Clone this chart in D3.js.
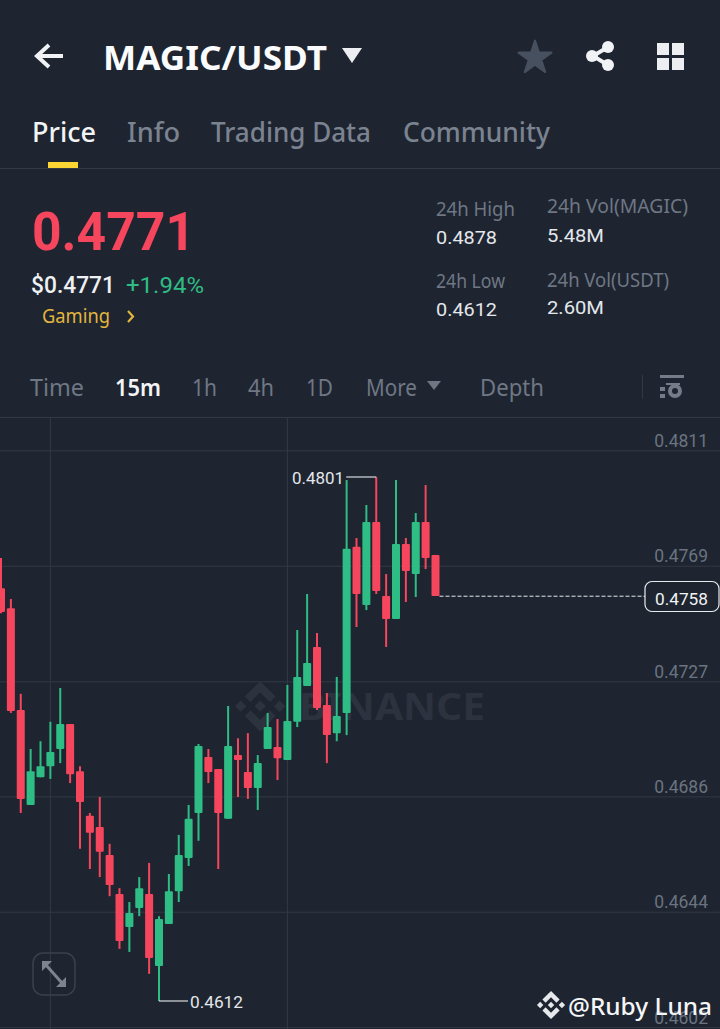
<!DOCTYPE html>
<html>
<head>
<meta charset="utf-8">
<script src="https://cdn.jsdelivr.net/npm/d3@7"></script>
<style>
  html, body { margin: 0; background: #1e2530; }
  svg { display: block; }
  text { font-family: "Noto Sans", sans-serif; }
  .num { font-family: Roboto, sans-serif; }
</style>
</head>
<body>
<svg width="720" height="1029"></svg>
<script>
// candles, oldest first (price values)
const opens = [0.47609, 0.47537, 0.47170, 0.46827, 0.46927, 0.46967, 0.47029, 0.47119, 0.46949, 0.46788,
  0.46748, 0.46647, 0.46506, 0.46387, 0.46455, 0.46506, 0.46246, 0.46398, 0.46516, 0.46636,
  0.46798, 0.47000, 0.46957, 0.46777, 0.47007, 0.46946, 0.46888, 0.47029, 0.47036, 0.46989,
  0.47127, 0.47256, 0.47397, 0.47188, 0.47086, 0.47159, 0.47758, 0.47548, 0.47848, 0.47581,
  0.47498, 0.47768, 0.47660, 0.47848, 0.47729];
const closes = [0.47523, 0.47166, 0.46849, 0.46949, 0.46967, 0.47018, 0.47119, 0.46938, 0.46838, 0.46727,
  0.46658, 0.46538, 0.46336, 0.46437, 0.46527, 0.46275, 0.46416, 0.46516, 0.46647, 0.46777,
  0.47040, 0.46946, 0.46798, 0.47040, 0.46989, 0.46888, 0.46978, 0.47108, 0.46996, 0.47130,
  0.47289, 0.47339, 0.47177, 0.47079, 0.47148, 0.47751, 0.47588, 0.47848, 0.47599, 0.47498,
  0.47768, 0.47671, 0.47848, 0.47718, 0.47581];
const highs = [0.47718, 0.47570, 0.47228, 0.47029, 0.47057, 0.47127, 0.47249, 0.47119, 0.46967, 0.46798,
  0.46856, 0.46687, 0.46527, 0.46477, 0.46567, 0.46618, 0.46426, 0.46578, 0.46719, 0.46827,
  0.47047, 0.47029, 0.46957, 0.47184, 0.47068, 0.47086, 0.47007, 0.47159, 0.47137, 0.47260,
  0.47458, 0.47588, 0.47447, 0.47231, 0.47289, 0.47999, 0.47790, 0.47909, 0.48010, 0.47660,
  0.47999, 0.47790, 0.47880, 0.47981, 0.47729];
const lows = [0.47519, 0.47159, 0.46798, 0.46827, 0.46927, 0.46921, 0.46978, 0.46906, 0.46669, 0.46596,
  0.46567, 0.46498, 0.46308, 0.46297, 0.46426, 0.46218, 0.46120, 0.46398, 0.46477, 0.46607,
  0.46698, 0.46906, 0.46596, 0.46777, 0.46856, 0.46849, 0.46809, 0.47029, 0.46917, 0.46989,
  0.47108, 0.47256, 0.47170, 0.46978, 0.47057, 0.47079, 0.47469, 0.47530, 0.47588, 0.47397,
  0.47498, 0.47559, 0.47577, 0.47678, 0.47581];

const gridPrices = [0.48106, 0.47690, 0.47273, 0.46858, 0.46442, 0.46026];
const tickLabels = ["0.4811", "0.4769", "0.4727", "0.4686", "0.4644", "0.4602"];
const gridCandles = [5, 29];
const lastPrice = 0.4758;

const GREEN = "#2ebd85", RED = "#f6465d", BG = "#1e2530", GRID = "#323945", MUTED = "#7b8391";

const svg = d3.select("svg");
const candles = d3.range(opens.length);

const x = d3.scaleLinear().domain([0, 44]).range([1, 435.5]);
const y = d3.scaleLinear().domain([0.4801, 0.4612]).range([477, 1001]);

// text fitted to the width it has in the screenshot
const label = (tx, ty, str, size, fill, weight, width, cls) => {
  const t = svg.append("text")
    .attr("x", tx).attr("y", ty)
    .attr("font-size", size).attr("font-weight", weight || 400)
    .attr("fill", fill).attr("class", cls || null)
    .text(str);
  if (width) t.attr("textLength", width).attr("lengthAdjust", "spacingAndGlyphs");
  return t;
};
const icon = (d, fill, tf) => svg.append("path").attr("d", d).attr("fill", fill).attr("transform", tf || null);
const BN_LOGO = "M16.624 13.9202l2.7175 2.7154-7.353 7.353-7.353-7.352 2.7175-2.7164 4.6355 4.6595 4.6356-4.6595zm4.6366-4.6366L24 12l-2.7154 2.7164L18.5682 12l2.6924-2.7164zm-9.272.001l2.7163 2.6914-2.7164 2.7174v-.001L9.2721 12l2.7164-2.7154zm-9.2722-.001L5.4088 12l-2.6914 2.6924L0 12l2.7164-2.7164zM11.9885.0115l7.353 7.329-2.7174 2.7154-4.6356-4.6356-4.6355 4.6595-2.7174-2.7154 7.353-7.353z";

svg.append("rect").attr("width", 720).attr("height", 1029).attr("fill", BG);

// header
svg.append("path").attr("d", "M63 56H38M49 45L37 56L49 67").attr("fill", "none")
  .attr("stroke", "#f0f2f5").attr("stroke-width", 4);
label(103, 70, "MAGIC/USDT", 34, "#fafbfc", 700, 224);
icon("M342 48H362L352 63Z", "#eceef1");
icon(d3.symbol(d3.symbolStar, 340)(), "#47505f", "translate(535,58)")
  .attr("stroke", "#47505f").attr("stroke-width", 2).attr("stroke-linejoin", "round");

const share = svg.append("g").attr("fill", "#f0f2f5").attr("stroke", "#f0f2f5");
share.append("path").attr("d", "M608 47L593 56L608 65").attr("fill", "none").attr("stroke-width", 4);
[[608, 47], [592, 56], [608, 65]].forEach(c => share.append("circle").attr("cx", c[0]).attr("cy", c[1]).attr("r", 6).attr("stroke", "none"));
[[657, 43], [672, 43], [657, 58], [672, 58]].forEach(c =>
  svg.append("rect").attr("x", c[0]).attr("y", c[1]).attr("width", 12).attr("height", 12).attr("fill", "#eceef1"));

// tabs
label(32, 142, "Price", 27, "#f2f4f6", 500, 64);
label(127, 142, "Info", 27, MUTED, 500, 53);
label(211, 142, "Trading Data", 27, MUTED, 500, 160);
label(403, 142, "Community", 27, MUTED, 500, 147);
svg.append("rect").attr("x", 48).attr("y", 162).attr("width", 30).attr("height", 6).attr("fill", "#fcd535");
svg.append("rect").attr("y", 168).attr("width", 720).attr("height", 1).attr("fill", GRID);

// price block
label(32, 250, "0.4771", 54, RED, 700, 163, "num");
label(31, 293, "$0.4771", 23, "#eef0f3", 500, 84, "num");
label(126, 293, "+1.94%", 22, GREEN, 400, 78, "num");
label(42, 323, "Gaming", 20, "#e2b53e", 400, 68);
svg.append("path").attr("d", "M128 311L133 316.5L128 322").attr("fill", "none").attr("stroke", "#e2b53e").attr("stroke-width", 2.2);

label(436, 216, "24h High", 20, "#6f7785", 400, 79);
label(436, 244, "0.4878", 19, "#e4e7eb", 400, 61, "num");
label(547, 213, "24h Vol(MAGIC)", 20, "#6f7785", 400, 141);
label(547, 242, "5.48M", 19, "#e4e7eb", 400, 57, "num");
label(436, 288, "24h Low", 20, "#6f7785", 400, 69);
label(436, 316, "0.4612", 19, "#e4e7eb", 400, 61, "num");
label(547, 287, "24h Vol(USDT)", 20, "#6f7785", 400, 122);
label(547, 314, "2.60M", 19, "#e4e7eb", 400, 57, "num");

// interval row
label(30, 396, "Time", 23, "#6f7785", 400, 54);
label(115, 396, "15m", 23, "#f2f4f6", 600, 46);
label(192, 396, "1h", 23, "#6f7785", 400, 25);
label(248, 396, "4h", 23, "#6f7785", 400, 26);
label(306, 396, "1D", 23, "#6f7785", 400, 27);
label(366, 396, "More", 23, "#6f7785", 400, 51);
icon("M427 381H441L434 390Z", "#6f7785");
label(480, 396, "Depth", 23, "#6f7785", 400, 64);
svg.append("rect").attr("x", 642).attr("y", 375).attr("width", 1).attr("height", 24).attr("fill", GRID);
icon("M660 375H684V378H660ZM666 383H680V385H666ZM660 387H665V391H660ZM660 394H665V398H660Z", "#747c8a");
svg.append("circle").attr("cx", 675).attr("cy", 391).attr("r", 5).attr("fill", "none").attr("stroke", "#747c8a").attr("stroke-width", 4);
svg.append("rect").attr("y", 417).attr("width", 720).attr("height", 1).attr("fill", GRID);

// grid, from the same scales as the candles
const yGrid = svg.append("g").attr("class", "y-grid")
  .call(d3.axisRight(y).tickValues(gridPrices).tickSize(720).tickFormat(""));
yGrid.select(".domain").remove();
yGrid.selectAll("line").attr("stroke", GRID);

svg.append("g").selectAll("line").data(gridCandles).join("line")
  .attr("x1", d => x(d)).attr("x2", d => x(d))
  .attr("y1", 418).attr("y2", 1029)
  .attr("stroke", GRID);

// watermark
icon(BN_LOGO, "#2c323e", "translate(235,681) scale(2.1)");
label(299, 720, "BINANCE", 38, "#2c323e", 700, 186);

const yAxis = svg.append("g").attr("class", "y-axis")
  .attr("transform", "translate(708,0)")
  .call(d3.axisLeft(y).tickValues(gridPrices).tickSize(0).tickPadding(0)
    .tickFormat((d, i) => tickLabels[i]));
yAxis.select(".domain").remove();
yAxis.selectAll("text")
  .attr("class", "num")
  .attr("dy", "-4")
  .attr("font-size", 17.5)
  .attr("fill", "#6b7380");

// candles
const candle = svg.append("g").selectAll("g").data(candles).join("g")
  .attr("fill", i => closes[i] >= opens[i] ? GREEN : RED)
  .attr("stroke", i => closes[i] >= opens[i] ? GREEN : RED);
candle.append("line")
  .attr("x1", i => x(i)).attr("x2", i => x(i))
  .attr("y1", i => y(highs[i])).attr("y2", i => y(lows[i]))
  .attr("stroke-width", 2);
candle.append("rect")
  .attr("x", i => x(i) - 4)
  .attr("width", 8)
  .attr("y", i => y(Math.max(opens[i], closes[i])))
  .attr("height", i => Math.abs(y(opens[i]) - y(closes[i])))
  .attr("rx", 1)
  .attr("stroke", "none");

// high / low markers
const hi = d3.greatest(candles, i => highs[i]);
const lo = d3.least(candles, i => lows[i]);
svg.append("path").attr("fill", "none").attr("stroke", "#d8dce1").attr("stroke-width", 1.2)
  .attr("d", `M${x(hi) - 30},${y(highs[hi])}H${x(hi)}`);
svg.append("path").attr("fill", "none").attr("stroke", "#d8dce1").attr("stroke-width", 1.2)
  .attr("d", `M${x(lo)},${y(lows[lo])}H${x(lo) + 29}`);
label(292, y(highs[hi]) + 7, highs[hi].toFixed(4), 17, "#e4e7eb", 400, 52, "num");
label(190, y(lows[lo]) + 7, lows[lo].toFixed(4), 17, "#e4e7eb", 400, 53, "num");

// last price
svg.append("line")
  .attr("x1", x(44) + 4).attr("x2", 645)
  .attr("y1", y(lastPrice)).attr("y2", y(lastPrice))
  .attr("stroke", "#e8eaed").attr("stroke-dasharray", "4 2");
svg.append("rect").attr("x", 645).attr("y", 581.5).attr("width", 74).attr("height", 30).attr("rx", 7)
  .attr("fill", BG).attr("stroke", "#e8eaed").attr("stroke-width", 1.2);
label(655, 605, lastPrice.toFixed(4), 17, "#f2f4f6", 400, 53, "num");

// expand button
svg.append("rect").attr("x", 33).attr("y", 953).attr("width", 42).attr("height", 42).attr("rx", 10)
  .attr("fill", "none").attr("stroke", "#3a414d").attr("stroke-width", 1.5);
icon("M42 961H52L42 971ZM66 987H56L66 977Z", "#7d8490");
svg.append("line").attr("x1", 46).attr("y1", 965).attr("x2", 62).attr("y2", 983)
  .attr("stroke", "#7d8490").attr("stroke-width", 3);

// credit
icon(BN_LOGO, "#e6e8eb", "translate(537,991) scale(1.17)");
label(568, 1015, "@Ruby Luna", 24, "#f5f6f8", 500, 144);
</script>
</body>
</html>
